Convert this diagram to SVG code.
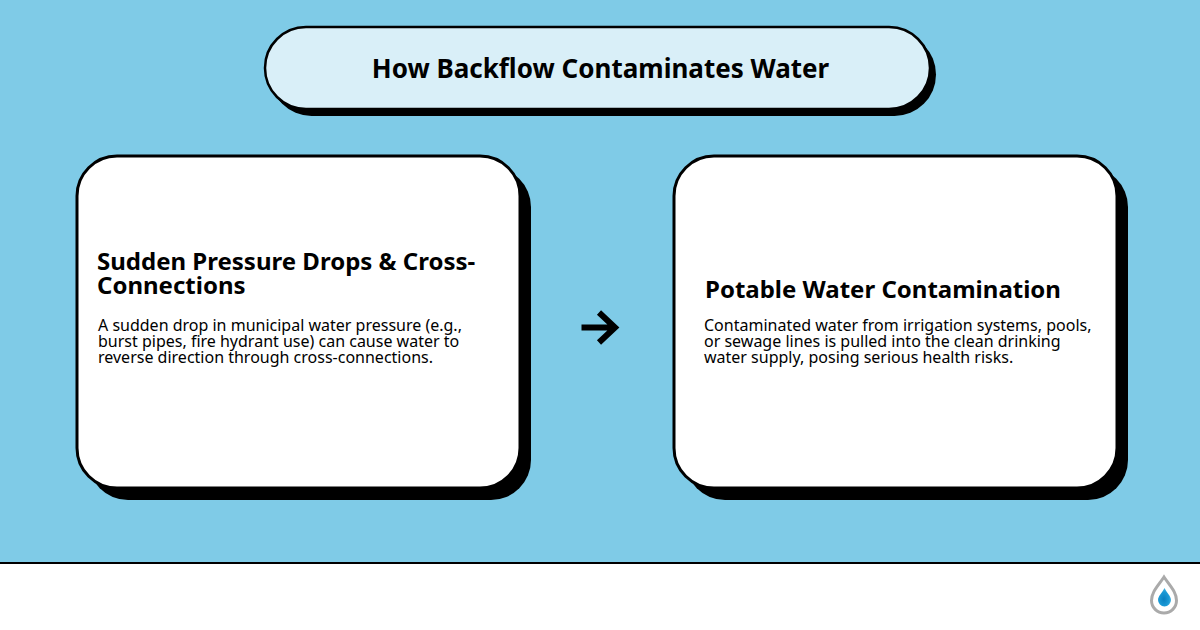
<svg xmlns="http://www.w3.org/2000/svg" width="1200" height="630" viewBox="0 0 1200 630">
<defs>
<radialGradient id="drop" cx="0.45" cy="0.6" r="0.65"><stop offset="0" stop-color="#0a7fc0"/><stop offset="0.6" stop-color="#1b9ad6"/><stop offset="1" stop-color="#55bde3"/></radialGradient>
</defs>
<style>
text{font-family:"Noto Sans","DejaVu Sans",sans-serif;fill:#000}
.title{font-size:26px;font-weight:700}
.head{font-size:24px;font-weight:700}
.body{font-size:16px}
.shadow{fill:#000}
.card{fill:#fff;stroke:#000;stroke-width:3}
</style>
<rect width="1200" height="630" fill="#7fcbe7"/>
<rect y="563" width="1200" height="67" fill="#fff"/>
<rect y="562" width="1200" height="2" fill="#000"/>
<g id="title-node">
<rect class="shadow" x="270" y="33" width="666" height="83" rx="41.5"/>
<rect x="265" y="27" width="665" height="82" rx="41" fill="#d9eff8" stroke="#000" stroke-width="2.500"/>
<text class="title" x="600.500" y="78" text-anchor="middle">How Backflow Contaminates Water</text>
</g>
<g id="cause-node">
<rect class="shadow" x="88" y="167" width="443" height="333" rx="40"/>
<rect class="card" x="77" y="156" width="443" height="332" rx="40"/>
<text class="head" x="97" y="270">Sudden Pressure Drops &amp; Cross-</text>
<text class="head" x="97" y="294">Connections</text>
<text class="body" x="98" y="331">A sudden drop in municipal water pressure (e.g.,</text>
<text class="body" x="98" y="347">burst pipes, fire hydrant use) can cause water to</text>
<text class="body" x="98" y="363">reverse direction through cross-connections.</text>
</g>
<g id="effect-node">
<rect class="shadow" x="685" y="167" width="443" height="333" rx="40"/>
<rect class="card" x="674" y="156" width="443" height="332" rx="40"/>
<text class="head" x="705" y="298">Potable Water Contamination</text>
<text class="body" x="704" y="331">Contaminated water from irrigation systems, pools,</text>
<text class="body" x="704" y="347">or sewage lines is pulled into the clean drinking</text>
<text class="body" x="704" y="363">water supply, posing serious health risks.</text>
</g>
<g id="connectors">
<path d="M581.500 327.500H614M599 312.500L615 327.500L599 342.500" fill="none" stroke="#000" stroke-width="6"/>
</g>
<g id="logo">
<path d="M1164 577C1158 586 1151.500 592 1151.500 600.500A12.500 12.500 0 0 0 1176.500 600.500C1176.500 592 1170 586 1164 577Z" fill="#fff" stroke="#aaa" stroke-width="3"/>
<path d="M1164.500 588C1162 593 1158 596 1158 600A6.500 6.500 0 0 0 1171 600C1171 596 1167 593 1164.500 588Z" fill="url(#drop)"/>
</g>
</svg>
